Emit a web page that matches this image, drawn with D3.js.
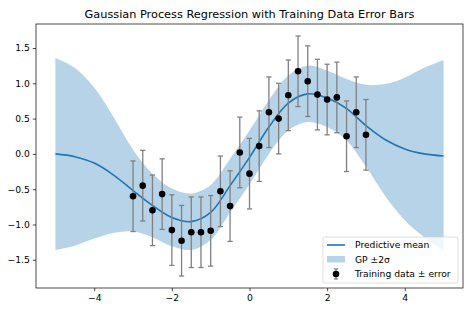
<!DOCTYPE html>
<html>
<head>
<meta charset="UTF-8">
<title></title>
<script src="https://cdn.jsdelivr.net/npm/d3@7"></script>
<style>
    body{margin:0;background:#fff;}
    text{font-family:"DejaVu Sans",sans-serif;}
</style>
</head>
<body>
</body>
</html>
<script>
    // training data (x, y, error)
    var trainX=[-3,-2.75,-2.5,-2.25,-2,-1.75,-1.5,-1.25,-1,-0.75,-0.5,-0.25,0,0.25,0.5,0.75,1,1.25,1.5,1.75,2,2.25,2.5,2.75,3];
    var trainY=[-0.60,-0.45,-0.80,-0.57,-1.08,-1.23,-1.11,-1.11,-1.09,-0.53,-0.74,0.02,-0.28,0.11,0.59,0.50,0.83,1.17,1.03,0.84,0.77,0.80,0.25,0.59,0.27];
    var trainErr=[0.5,0.5,0.5,0.5,0.5,0.5,0.5,0.5,0.5,0.5,0.5,0.5,0.5,0.5,0.5,0.5,0.5,0.5,0.5,0.5,0.5,0.5,0.5,0.5,0.5];

    // GP prediction
    var gridX=[-5,-4.5,-4,-3.5,-3,-2.5,-2,-1.5,-1,-0.5,0,0.5,1,1.5,2,2.5,3,3.5,4,4.5,5];
    var meanY=[0.00,-0.04,-0.13,-0.30,-0.52,-0.73,-0.90,-0.96,-0.83,-0.45,-0.05,0.38,0.72,0.85,0.79,0.64,0.40,0.20,0.07,0.00,-0.03];
    var upperY=[1.36,1.22,0.94,0.52,0.06,-0.28,-0.49,-0.56,-0.44,-0.07,0.33,0.76,1.11,1.25,1.18,1.06,0.98,0.99,1.08,1.22,1.33];
    var lowerY=[-1.36,-1.30,-1.20,-1.12,-1.10,-1.18,-1.31,-1.36,-1.22,-0.83,-0.43,0.00,0.33,0.45,0.38,0.19,-0.18,-0.60,-0.94,-1.18,-1.37];

    var xTicks=[-4,-2,0,2,4];
    var yTicks=[-1.5,-1.0,-0.5,0.0,0.5,1.0,1.5];
    var legendLabels=["Predictive mean","GP ±2σ","Training data ± error"];

    var W=474,H=310;
    var pL=36,pR=463,pT=24,pB=288;
    var blue='#1f77b4';

    var _x=d3.scaleLinear().domain([-5.5,5.5]).range([pL,pR]);
    var _y=d3.scaleLinear().domain([-1.9,1.84]).range([pB,pT]);

    var _svg=d3.select('body').append('svg')
            .attr('width',W).attr('height',H);

    _svg.append('text')
            .attr('x',(pL+pR)/2).attr('y',18)
            .attr('text-anchor','middle')
            .style('font-size','11.3px')
            .attr('fill','#000')
            .text('Gaussian Process Regression with Training Data Error Bars');

    var plot=_svg.append('g');

    // band
    var _area=d3.area()
            .x(function(d,i){return _x(gridX[i]);})
            .y0(function(d,i){return _y(lowerY[i]);})
            .y1(function(d,i){return _y(upperY[i]);})
            .curve(d3.curveCatmullRom);
    plot.append('path')
            .datum(gridX)
            .attr('d',_area)
            .attr('fill',blue)
            .attr('fill-opacity',0.32);

    // mean line
    var _line=d3.line()
            .x(function(d,i){return _x(gridX[i]);})
            .y(function(d,i){return _y(meanY[i]);})
            .curve(d3.curveCatmullRom);
    plot.append('path')
            .datum(gridX)
            .attr('d',_line)
            .attr('fill','none')
            .attr('stroke',blue)
            .attr('stroke-width',1.6);

    // error bars
    var eb=plot.selectAll('.eb')
            .data(trainX)
            .enter()
            .append('g')
            .attr('class','eb')
            .attr('stroke','#808080')
            .attr('stroke-width',1.3);
    eb.append('line')
            .attr('x1',function(d){return _x(d);})
            .attr('x2',function(d){return _x(d);})
            .attr('y1',function(d,i){return _y(trainY[i]-trainErr[i]);})
            .attr('y2',function(d,i){return _y(trainY[i]+trainErr[i]);});
    [-1,1].forEach(function(s){
        eb.append('line')
                .attr('x1',function(d){return _x(d)-2.6;})
                .attr('x2',function(d){return _x(d)+2.6;})
                .attr('y1',function(d,i){return _y(trainY[i]+s*trainErr[i]);})
                .attr('y2',function(d,i){return _y(trainY[i]+s*trainErr[i]);});
    });
    plot.selectAll('.pt')
            .data(trainX)
            .enter()
            .append('circle')
            .attr('class','pt')
            .attr('cx',function(d){return _x(d);})
            .attr('cy',function(d,i){return _y(trainY[i]);})
            .attr('r',3.3)
            .attr('fill','#000');

    // axes
    var xAxis=_svg.append('g')
            .attr('transform','translate(0,'+pB+')')
            .call(d3.axisBottom(_x).tickValues(xTicks).tickSize(3.2).tickPadding(3).tickFormat(d3.format('d')));
    var yAxis=_svg.append('g')
            .attr('transform','translate('+pL+',0)')
            .call(d3.axisLeft(_y).tickValues(yTicks).tickSize(3.2).tickPadding(3).tickFormat(d3.format('.1f')));
    [xAxis,yAxis].forEach(function(a){
        a.select('.domain').remove();
        a.selectAll('text').style('font-size','9.2px').attr('fill','#000').style('font-family','"DejaVu Sans",sans-serif');
        a.selectAll('line').attr('stroke','#000').attr('stroke-width',0.7);
    });
    _svg.append('rect')
            .attr('x',pL).attr('y',pT)
            .attr('width',pR-pL).attr('height',pB-pT)
            .attr('fill','none')
            .attr('stroke','#000')
            .attr('stroke-width',0.7);

    // legend
    var lg=_svg.append('g');
    lg.append('rect')
            .attr('x',323).attr('y',237)
            .attr('width',135).attr('height',46)
            .attr('rx',2)
            .attr('fill','#fff')
            .attr('fill-opacity',0.8)
            .attr('stroke','#d0d0d0')
            .attr('stroke-width',0.7);
    var rowY=[245,259.5,274];
    lg.append('line')
            .attr('x1',327).attr('x2',345)
            .attr('y1',rowY[0]).attr('y2',rowY[0])
            .attr('stroke',blue).attr('stroke-width',1.6);
    lg.append('rect')
            .attr('x',327).attr('y',rowY[1]-3.5)
            .attr('width',18).attr('height',6.5)
            .attr('fill',blue).attr('fill-opacity',0.32);
    lg.append('line')
            .attr('x1',336).attr('x2',336)
            .attr('y1',rowY[2]-5).attr('y2',rowY[2]+5)
            .attr('stroke','#808080').attr('stroke-width',1.3);
    [-5,5].forEach(function(o){
        lg.append('line')
                .attr('x1',334).attr('x2',338)
                .attr('y1',rowY[2]+o).attr('y2',rowY[2]+o)
                .attr('stroke','#808080').attr('stroke-width',1.3);
    });
    lg.append('circle')
            .attr('cx',336).attr('cy',rowY[2]).attr('r',3.3).attr('fill','#000');
    lg.selectAll('.lt')
            .data(legendLabels)
            .enter()
            .append('text')
            .attr('class','lt')
            .attr('x',355)
            .attr('y',function(d,i){return rowY[i];})
            .attr('dy','0.35em')
            .style('font-size','9.2px')
            .attr('fill','#000')
            .text(function(d){return d;});
</script>
